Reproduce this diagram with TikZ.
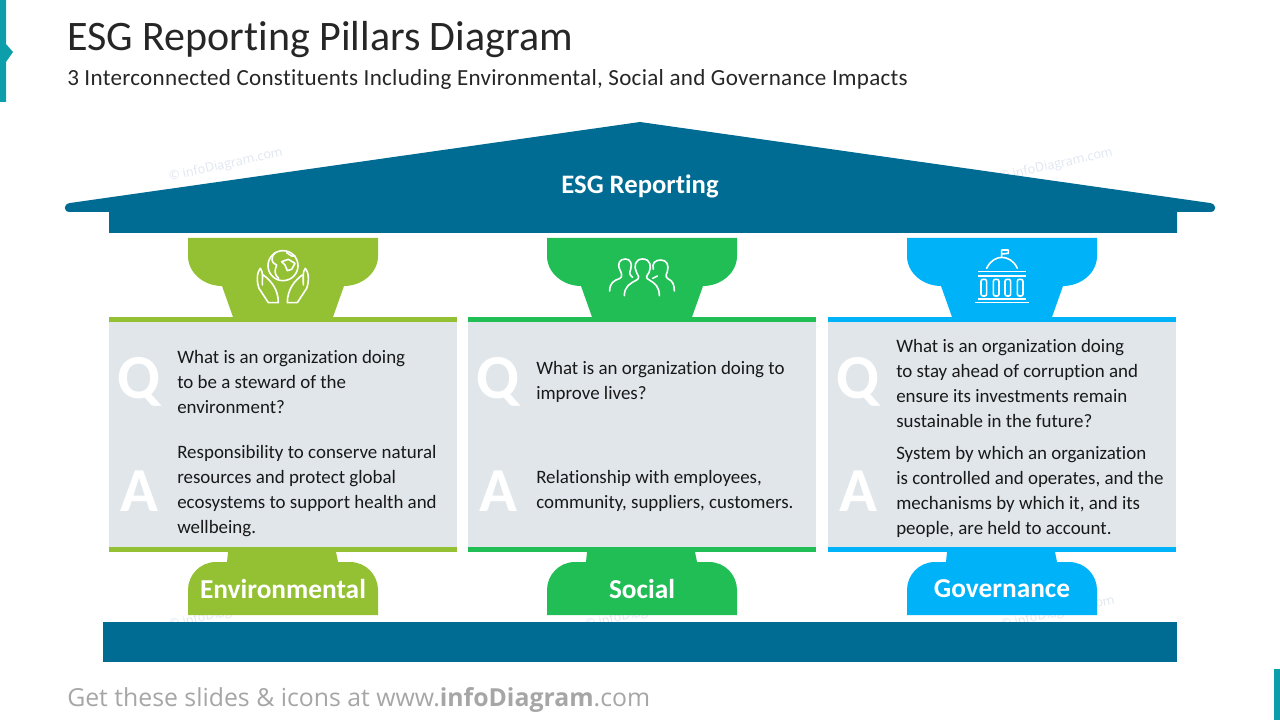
\documentclass[tikz,border=0pt]{standalone}
\usepackage{fontspec}
\setmainfont{Carlito}[Ligatures=CommonOff]
\newfontfamily\footfont{Open Sans}
\definecolor{roofblue}{HTML}{006B93}
\definecolor{envgreen}{HTML}{94C133}
\definecolor{socgreen}{HTML}{21BE56}
\definecolor{govblue}{HTML}{00B2F7}
\definecolor{panelgray}{HTML}{E0E6EA}
\definecolor{accentteal}{HTML}{0C9FAB}
\definecolor{markgray}{HTML}{DFE6F0}
\definecolor{footgray}{HTML}{A6A6A6}
\tikzset{
  qatext/.style={anchor=west,inner sep=0pt,align=left,font=\fontsize{14.2}{18.75}\selectfont,text=black!90},
  qaletter/.style={inner sep=0pt,text=white,font=\fontsize{47}{47}\selectfont\bfseries},
  pillarname/.style={inner sep=0pt,text=white,font=\fontsize{20}{20}\selectfont\bfseries},
  watermark/.style={inner sep=0pt,rotate=12.5,text=markgray,font=\footfont\fontsize{9.5}{9.5}\selectfont},
  iconline/.style={draw=white,line width=1.2pt,line join=round,line cap=round}
}
\begin{document}
\begin{tikzpicture}[x=0.75pt,y=-0.75pt]
\useasboundingbox (0,0) rectangle (1280,720);

\foreach \mx/\my [count=\i] in {226/165, 1056/165, 226/613, 642/613, 1058/613}
  {
  \node[watermark] (mark\i) at (\mx,\my) {© infoDiagram.com};
  }

\fill[accentteal] (0,0) -- (6,0) -- (6,44) -- (13,52) -- (6,62) -- (6,102) -- (0,102) -- cycle;
\fill[accentteal] (1274,669) rectangle (1280,720);

\node[anchor=west,inner sep=0pt,text=black!85,font=\fontsize{31.5}{31.5}\selectfont] (title) at (67,40) {ESG Reporting Pillars Diagram};
\node[anchor=west,inner sep=0pt,text=black!85,font=\fontsize{17.3}{17.3}\selectfont\addfontfeatures{LetterSpace=1.3}] (subtitle) at (67,79) {3 Interconnected Constituents Including Environmental, Social and Governance Impacts};

\fill[roofblue] (640,122) -- (1210,203) .. controls (1217,204) and (1217,212) .. (1210,212) -- (1177,212) -- (1177,233)
  -- (109,233) -- (109,212) -- (70,212) .. controls (63,212) and (63,204) .. (70,203) -- cycle;
\node[pillarname] (roof) at (640,186) {ESG Reporting};

\fill[roofblue] (103,622) rectangle (1177,662);

\foreach \dx/\pcol/\pname in {0/envgreen/Environmental, 359/socgreen/Social, 719/govblue/Governance}
  {
  \begin{scope}[xshift=\dx*0.75pt]
  \fill[panelgray] (109,322) rectangle (457,547);
  \fill[\pcol] (109,317) rectangle (457,322);
  \fill[\pcol] (109,547) rectangle (457,552);
  \fill[\pcol] (188,238) -- (378,238) -- (378,256) .. controls (378,273) and (362,286) .. (344,286) -- (333,317)
    -- (233,317) -- (222,286) .. controls (204,286) and (188,273) .. (188,256) -- cycle;
  \fill[\pcol] (228,552) -- (336,552) -- (338,562) -- (350,562) .. controls (366,562) and (378,575) .. (378,590) -- (378,615)
    -- (188,615) -- (188,590) .. controls (188,575) and (200,562) .. (216,562) -- (227,562) -- cycle;
  \node[pillarname,font=\fontsize{20.5}{20.5}\selectfont\bfseries] (\pname) at (283,589) {\pname};
  \node[qaletter] (q\pname) at (139,382) {Q};
  \node[qaletter] (a\pname) at (139,491) {A};
  \end{scope}
  }

\node[qatext] (qenv) at (177,382) {What is an organization doing\\to be a steward of the\\environment?};
\node[qatext] (aenv) at (177,491.5) {Responsibility to conserve natural\\resources and protect global\\ecosystems to support health and\\wellbeing.};
\node[qatext] (qsoc) at (536,381.5) {What is an organization doing to\\improve lives?};
\node[qatext] (asoc) at (536,490.5) {Relationship with employees,\\community, suppliers, customers.};
\node[qatext] (qgov) at (896,383.5) {What is an organization doing\\to stay ahead of corruption and\\ensure its investments remain\\sustainable in the future?};
\node[qatext] (agov) at (896,491.5) {System by which an organization\\is controlled and operates, and the\\mechanisms by which it, and its\\people, are held to account.};

\begin{scope}[shift={(180*0.75pt,-230*0.75pt)},x=0.25pt,y=-0.25pt]
\draw[iconline] (309,107) circle [radius=11.25pt];
\draw[iconline] (285,68) .. controls (270,85) and (275,100) .. (290,105) .. controls (285,120) and (280,130) .. (296,145);
\draw[iconline] (320,68) -- (335,78) -- (345,78);
\draw[iconline] (305,95) -- (325,88) -- (345,100) -- (335,118) -- (322,122) -- (315,105) -- cycle;
\foreach \sgn/\off in {1/0, -1/617}
  {
  \draw[iconline] (\off+\sgn*265,218) -- (\off+\sgn*237,175) .. controls (\off+\sgn*228,150) and (\off+\sgn*232,125) .. (\off+\sgn*241,115)
    .. controls (\off+\sgn*250,125) and (\off+\sgn*247,145) .. (\off+\sgn*247,165) (\off+\sgn*250,135) .. controls (\off+\sgn*270,150) and (\off+\sgn*295,175) .. (\off+\sgn*295,218) -- (\off+\sgn*265,218);
  }
\end{scope}

\begin{scope}[shift={(540*0.75pt,-230*0.75pt)},x=0.25pt,y=-0.25pt]
\draw[iconline] (253,197) .. controls (253,170) and (270,160) .. (290,150) .. controls (300,145) and (295,135) .. (290,128)
  .. controls (280,110) and (285,87) .. (308,87) .. controls (332,87) and (335,110) .. (327,128) .. controls (320,137) and (315,145) .. (328,150)
  .. controls (345,160) and (358,170) .. (358,197);
\draw[iconline] (209,183) .. controls (209,160) and (220,152) .. (240,145) .. controls (248,140) and (245,130) .. (240,120)
  .. controls (230,100) and (240,87) .. (256,87) .. controls (270,87) and (278,100) .. (272,118) .. controls (268,128) and (268,135) .. (278,142);
\draw[iconline] (340,118) .. controls (335,100) and (345,90) .. (362,90) .. controls (380,90) and (388,105) .. (382,125) .. controls (378,135) and (375,140) .. (385,147)
  .. controls (398,152) and (403,165) .. (403,183);
\draw[iconline] (338,145) -- (352,138);
\end{scope}

\begin{scope}[shift={(900*0.75pt,-230*0.75pt)},x=0.25pt,y=-0.25pt]
\draw[iconline] (305,82) -- (305,60) -- (325,60) -- (325,70) -- (305,72);
\draw[iconline] (260,115) .. controls (270,92) and (290,82) .. (305,82) .. controls (322,82) and (342,92) .. (352,115);
\draw[iconline,line cap=butt] (235,125) -- (378,125);
\draw[iconline,line cap=butt] (235,138) -- (378,138);
\foreach \cx in {243,280,315,352}
  {
  \draw[iconline,rounded corners=1.5pt] (\cx,148) rectangle (\cx+17,198);
  }
\draw[iconline,line cap=butt] (235,207) -- (378,207);
\draw[iconline,line cap=butt] (226,218) -- (387,218);
\end{scope}

\node[anchor=west,inner sep=0pt,text=footgray,font=\footfont\fontsize{18.6}{18.6}\selectfont] (footer) at (67,700) {Get these slides \& icons at www.\textbf{infoDiagram}.com};
\end{tikzpicture}
\end{document}
